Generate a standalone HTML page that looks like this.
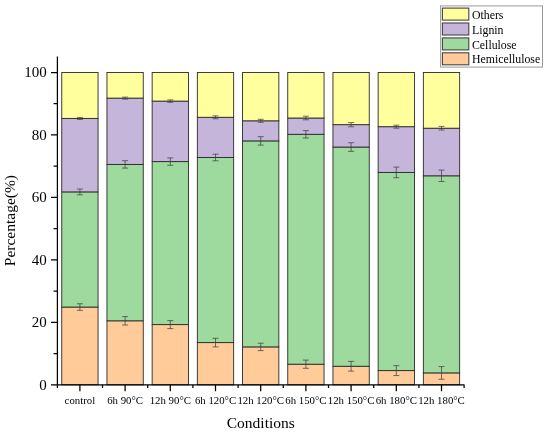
<!DOCTYPE html><html><head><meta charset="utf-8"><title>chart</title><style>html,body{margin:0;padding:0;background:#fff}svg{display:block}text{font-family:"Liberation Serif","Times New Roman",serif;fill:#000}</style></head><body>
<svg width="550" height="436" viewBox="0 0 550 436">
<rect width="550" height="436" fill="#fff"/>
<rect x="61.75" y="307.05" width="36.30" height="77.75" fill="#FFCC99" stroke="#2a2a2a" stroke-width="0.9"/>
<rect x="61.75" y="191.90" width="36.30" height="115.15" fill="#9ED99E" stroke="#2a2a2a" stroke-width="0.9"/>
<rect x="61.75" y="118.40" width="36.30" height="73.50" fill="#C6B5DA" stroke="#2a2a2a" stroke-width="0.9"/>
<rect x="61.75" y="72.50" width="36.30" height="45.90" fill="#FFFF9D" stroke="#2a2a2a" stroke-width="0.9"/>
<rect x="106.95" y="320.80" width="36.30" height="64.00" fill="#FFCC99" stroke="#2a2a2a" stroke-width="0.9"/>
<rect x="106.95" y="164.40" width="36.30" height="156.40" fill="#9ED99E" stroke="#2a2a2a" stroke-width="0.9"/>
<rect x="106.95" y="98.10" width="36.30" height="66.30" fill="#C6B5DA" stroke="#2a2a2a" stroke-width="0.9"/>
<rect x="106.95" y="72.50" width="36.30" height="25.60" fill="#FFFF9D" stroke="#2a2a2a" stroke-width="0.9"/>
<rect x="152.15" y="324.60" width="36.30" height="60.20" fill="#FFCC99" stroke="#2a2a2a" stroke-width="0.9"/>
<rect x="152.15" y="161.60" width="36.30" height="163.00" fill="#9ED99E" stroke="#2a2a2a" stroke-width="0.9"/>
<rect x="152.15" y="101.10" width="36.30" height="60.50" fill="#C6B5DA" stroke="#2a2a2a" stroke-width="0.9"/>
<rect x="152.15" y="72.50" width="36.30" height="28.60" fill="#FFFF9D" stroke="#2a2a2a" stroke-width="0.9"/>
<rect x="197.35" y="342.60" width="36.30" height="42.20" fill="#FFCC99" stroke="#2a2a2a" stroke-width="0.9"/>
<rect x="197.35" y="157.50" width="36.30" height="185.10" fill="#9ED99E" stroke="#2a2a2a" stroke-width="0.9"/>
<rect x="197.35" y="117.30" width="36.30" height="40.20" fill="#C6B5DA" stroke="#2a2a2a" stroke-width="0.9"/>
<rect x="197.35" y="72.50" width="36.30" height="44.80" fill="#FFFF9D" stroke="#2a2a2a" stroke-width="0.9"/>
<rect x="242.55" y="346.90" width="36.30" height="37.90" fill="#FFCC99" stroke="#2a2a2a" stroke-width="0.9"/>
<rect x="242.55" y="140.90" width="36.30" height="206.00" fill="#9ED99E" stroke="#2a2a2a" stroke-width="0.9"/>
<rect x="242.55" y="120.80" width="36.30" height="20.10" fill="#C6B5DA" stroke="#2a2a2a" stroke-width="0.9"/>
<rect x="242.55" y="72.50" width="36.30" height="48.30" fill="#FFFF9D" stroke="#2a2a2a" stroke-width="0.9"/>
<rect x="287.75" y="364.20" width="36.30" height="20.60" fill="#FFCC99" stroke="#2a2a2a" stroke-width="0.9"/>
<rect x="287.75" y="134.30" width="36.30" height="229.90" fill="#9ED99E" stroke="#2a2a2a" stroke-width="0.9"/>
<rect x="287.75" y="118.00" width="36.30" height="16.30" fill="#C6B5DA" stroke="#2a2a2a" stroke-width="0.9"/>
<rect x="287.75" y="72.50" width="36.30" height="45.50" fill="#FFFF9D" stroke="#2a2a2a" stroke-width="0.9"/>
<rect x="332.95" y="366.25" width="36.30" height="18.55" fill="#FFCC99" stroke="#2a2a2a" stroke-width="0.9"/>
<rect x="332.95" y="147.05" width="36.30" height="219.20" fill="#9ED99E" stroke="#2a2a2a" stroke-width="0.9"/>
<rect x="332.95" y="124.65" width="36.30" height="22.40" fill="#C6B5DA" stroke="#2a2a2a" stroke-width="0.9"/>
<rect x="332.95" y="72.50" width="36.30" height="52.15" fill="#FFFF9D" stroke="#2a2a2a" stroke-width="0.9"/>
<rect x="378.15" y="370.60" width="36.30" height="14.20" fill="#FFCC99" stroke="#2a2a2a" stroke-width="0.9"/>
<rect x="378.15" y="172.40" width="36.30" height="198.20" fill="#9ED99E" stroke="#2a2a2a" stroke-width="0.9"/>
<rect x="378.15" y="126.70" width="36.30" height="45.70" fill="#C6B5DA" stroke="#2a2a2a" stroke-width="0.9"/>
<rect x="378.15" y="72.50" width="36.30" height="54.20" fill="#FFFF9D" stroke="#2a2a2a" stroke-width="0.9"/>
<rect x="423.35" y="372.90" width="36.30" height="11.90" fill="#FFCC99" stroke="#2a2a2a" stroke-width="0.9"/>
<rect x="423.35" y="175.80" width="36.30" height="197.10" fill="#9ED99E" stroke="#2a2a2a" stroke-width="0.9"/>
<rect x="423.35" y="128.20" width="36.30" height="47.60" fill="#C6B5DA" stroke="#2a2a2a" stroke-width="0.9"/>
<rect x="423.35" y="72.50" width="36.30" height="55.70" fill="#FFFF9D" stroke="#2a2a2a" stroke-width="0.9"/>
<path d="M79.90 303.75V310.35M76.90 303.75h6M76.90 310.35h6M79.90 189.00V194.80M76.90 189.00h6M76.90 194.80h6M79.90 117.40V119.40M76.90 117.40h6M76.90 119.40h6M125.10 316.60V325.00M122.10 316.60h6M122.10 325.00h6M125.10 160.70V168.10M122.10 160.70h6M122.10 168.10h6M125.10 97.10V99.10M122.10 97.10h6M122.10 99.10h6M170.30 320.60V328.60M167.30 320.60h6M167.30 328.60h6M170.30 157.90V165.30M167.30 157.90h6M167.30 165.30h6M170.30 99.90V102.30M167.30 99.90h6M167.30 102.30h6M215.50 338.30V346.90M212.50 338.30h6M212.50 346.90h6M215.50 154.20V160.80M212.50 154.20h6M212.50 160.80h6M215.50 115.80V118.80M212.50 115.80h6M212.50 118.80h6M260.70 343.20V350.60M257.70 343.20h6M257.70 350.60h6M260.70 136.70V145.10M257.70 136.70h6M257.70 145.10h6M260.70 119.30V122.30M257.70 119.30h6M257.70 122.30h6M305.90 360.10V368.30M302.90 360.10h6M302.90 368.30h6M305.90 130.60V138.00M302.90 130.60h6M302.90 138.00h6M305.90 116.20V119.80M302.90 116.20h6M302.90 119.80h6M351.10 361.40V371.10M348.10 361.40h6M348.10 371.10h6M351.10 142.75V151.35M348.10 142.75h6M348.10 151.35h6M351.10 122.55V126.75M348.10 122.55h6M348.10 126.75h6M396.30 365.65V375.55M393.30 365.65h6M393.30 375.55h6M396.30 167.10V177.70M393.30 167.10h6M393.30 177.70h6M396.30 125.20V128.20M393.30 125.20h6M393.30 128.20h6M441.50 366.55V379.25M438.50 366.55h6M438.50 379.25h6M441.50 170.10V181.50M438.50 170.10h6M438.50 181.50h6M441.50 126.40V130.00M438.50 126.40h6M438.50 130.00h6" stroke="#3a3a3a" stroke-width="0.7" fill="none"/>
<path d="M57.4 56.4V388.1M51.0 384.8H464.4M51.00 384.80H57.4M53.60 353.57H57.4M51.00 322.34H57.4M53.60 291.11H57.4M51.00 259.88H57.4M53.60 228.65H57.4M51.00 197.42H57.4M53.60 166.19H57.4M51.00 134.96H57.4M53.60 103.73H57.4M51.00 72.50H57.4M79.90 384.8v6.4M102.50 384.8v3.3M125.10 384.8v6.4M147.70 384.8v3.3M170.30 384.8v6.4M192.90 384.8v3.3M215.50 384.8v6.4M238.10 384.8v3.3M260.70 384.8v6.4M283.30 384.8v3.3M305.90 384.8v6.4M328.50 384.8v3.3M351.10 384.8v6.4M373.70 384.8v3.3M396.30 384.8v6.4M418.90 384.8v3.3M441.50 384.8v6.4M464.10 384.8v3.3" stroke="#000" stroke-width="1.25" fill="none"/>
<text x="46.8" y="389.55" font-size="15.0" text-anchor="end">0</text>
<text x="46.8" y="327.09" font-size="15.0" text-anchor="end">20</text>
<text x="46.8" y="264.63" font-size="15.0" text-anchor="end">40</text>
<text x="46.8" y="202.17" font-size="15.0" text-anchor="end">60</text>
<text x="46.8" y="139.71" font-size="15.0" text-anchor="end">80</text>
<text x="46.8" y="77.25" font-size="15.0" text-anchor="end">100</text>
<text x="79.90" y="403.7" font-size="10.8" text-anchor="middle">control</text>
<text x="125.10" y="403.7" font-size="10.8" text-anchor="middle">6h 90°C</text>
<text x="170.30" y="403.7" font-size="10.8" text-anchor="middle">12h 90°C</text>
<text x="215.50" y="403.7" font-size="10.8" text-anchor="middle">6h 120°C</text>
<text x="260.70" y="403.7" font-size="10.8" text-anchor="middle">12h 120°C</text>
<text x="305.90" y="403.7" font-size="10.8" text-anchor="middle">6h 150°C</text>
<text x="351.10" y="403.7" font-size="10.8" text-anchor="middle">12h 150°C</text>
<text x="396.30" y="403.7" font-size="10.8" text-anchor="middle">6h 180°C</text>
<text x="441.50" y="403.7" font-size="10.8" text-anchor="middle">12h 180°C</text>
<text x="260.8" y="428.0" font-size="15.5" text-anchor="middle">Conditions</text>
<text transform="translate(15.1 220.6) rotate(-90)" font-size="15.5" text-anchor="middle">Percentage(%)</text>
<rect x="440.6" y="5.9" width="101.9" height="61.2" fill="#fff" stroke="#9a9a9a" stroke-width="1"/>
<rect x="442.4" y="8.10" width="26.4" height="12.0" fill="#FFFF9D" stroke="#444" stroke-width="1.1"/>
<text x="472.0" y="18.80" font-size="11.8">Others</text>
<rect x="442.4" y="23.00" width="26.4" height="12.0" fill="#C6B5DA" stroke="#444" stroke-width="1.1"/>
<text x="472.0" y="33.65" font-size="11.8">Lignin</text>
<rect x="442.4" y="37.90" width="26.4" height="12.0" fill="#9ED99E" stroke="#444" stroke-width="1.1"/>
<text x="472.0" y="48.50" font-size="11.8">Cellulose</text>
<rect x="442.4" y="52.80" width="26.4" height="12.0" fill="#FFCC99" stroke="#444" stroke-width="1.1"/>
<text x="472.0" y="63.35" font-size="11.8">Hemicellulose</text>
</svg></body></html>
